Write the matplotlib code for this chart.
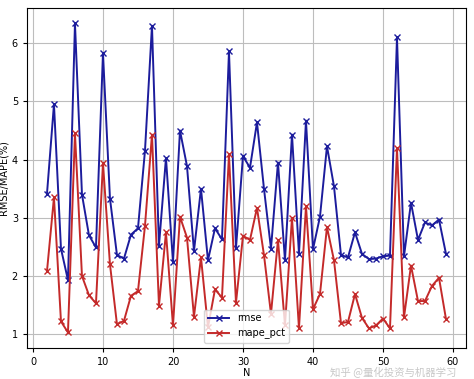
import matplotlib
matplotlib.use("Agg")
import matplotlib.pyplot as plt

N = list(range(2, 60))
rmse = [3.41, 4.95, 2.47, 1.93, 6.34, 3.40, 2.70, 2.49, 5.83, 3.33,
        2.36, 2.30, 2.71, 2.82, 4.15, 6.30, 2.52, 4.03, 2.24, 4.50,
        3.89, 2.43, 3.50, 2.27, 2.82, 2.63, 5.86, 2.48, 4.06, 3.86,
        4.64, 3.50, 2.47, 3.95, 2.27, 4.43, 2.38, 4.67, 2.46, 3.02,
        4.23, 3.54, 2.36, 2.32, 2.75, 2.38, 2.29, 2.30, 2.34, 2.35,
        6.10, 2.34, 3.26, 2.62, 2.92, 2.87, 2.97, 2.38]
mape_pct = [2.08, 3.35, 1.22, 1.03, 4.45, 2.00, 1.67, 1.53, 3.94, 2.20,
            1.17, 1.23, 1.66, 1.74, 2.86, 4.43, 1.49, 2.75, 1.15, 3.02,
            2.66, 1.30, 2.32, 1.12, 1.77, 1.63, 4.09, 1.54, 2.69, 2.62,
            3.17, 2.36, 1.35, 2.62, 1.15, 3.00, 1.10, 3.20, 1.43, 1.69,
            2.84, 2.27, 1.19, 1.21, 1.69, 1.28, 1.10, 1.15, 1.27, 1.10,
            4.20, 1.29, 2.18, 1.57, 1.57, 1.83, 1.97, 1.26]

plt.rcParams['font.family'] = ['DejaVu Sans']
fig = plt.figure(figsize=(4.74, 3.79), dpi=100)
ax = fig.add_axes([0.057, 0.082, 0.926, 0.897])
ax.plot(N, rmse, color='#1c1c9c', marker='x', markersize=4.5, linewidth=1.4, label='rmse')
ax.plot(N, mape_pct, color='#c42a2a', marker='x', markersize=4.5, linewidth=1.4, label='mape_pct')
ax.set_xticks([0, 10, 20, 30, 40, 50, 60])
ax.set_yticks([1, 2, 3, 4, 5, 6])
ax.tick_params(labelsize=7, length=3)
ax.grid(True, color='#bdbdbd', linewidth=0.8)
ax.set_xlabel('N', fontsize=7, labelpad=1)
ax.set_ylabel('RMSE/MAPE(%)', fontsize=7, labelpad=2)
ax.legend(loc='lower center', fontsize=7, framealpha=0.8, handlelength=2.2)
fig.text(0.83, 0.018, '知乎 @量化投资与机器学习', fontsize=7.5, color='#c8c8c8',
         ha='center', va='center', family=['Noto Sans CJK SC', 'DejaVu Sans'])
fig.savefig('out.png', dpi=100)
